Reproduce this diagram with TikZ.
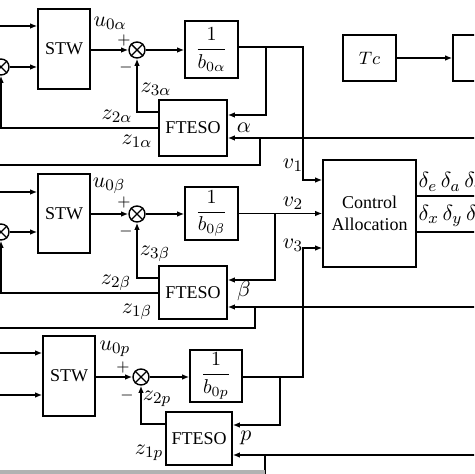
\documentclass[tikz,border=0pt]{standalone}
\usepackage{fontspec}
\setmainfont{Liberation Serif}
\usetikzlibrary{arrows.meta}
\begin{document}
\begin{tikzpicture}[x=0.5pt,y=-0.5pt,line width=0.7pt,
  blk/.style={draw,inner sep=0pt,align=center,font=\fontsize{9}{11}\selectfont},
  sumn/.style={draw,circle,minimum size=8pt,inner sep=0pt},
  arr/.style={-{Latex[length=3.6pt,width=2.8pt]}},
  lbl/.style={inner sep=0pt,font=\fontsize{11}{13}\selectfont},
  sgn/.style={inner sep=0pt,font=\fontsize{8}{9}\selectfont}]
\useasboundingbox (0,0) rectangle (474,474);
\clip (0,0) rectangle (474,474);

% blocks
\node[blk,minimum width=26pt,minimum height=40pt] (stw1) at (64,49) {STW};
\node[blk,minimum width=26pt,minimum height=39.5pt] (stw2) at (64,213.5) {STW};
\node[blk,minimum width=26pt,minimum height=40pt] (stw3) at (69,376) {STW};
\node[blk,minimum width=26.5pt,minimum height=28.5pt,font=\fontsize{10}{12}\selectfont] (b1) at (211.5,49.5) {$\displaystyle\frac{1}{b_{0\alpha}}$};
\node[blk,minimum width=26.5pt,minimum height=26.5pt,font=\fontsize{10}{12}\selectfont] (b2) at (211.5,213.5) {$\displaystyle\frac{1}{b_{0\beta}}$};
\node[blk,minimum width=26pt,minimum height=26pt,font=\fontsize{10}{12}\selectfont] (b3) at (216,376) {$\displaystyle\frac{1}{b_{0p}}$};
\node[blk,minimum width=34pt,minimum height=28pt] (f1) at (193,128) {FTESO};
\node[blk,minimum width=34pt,minimum height=26.5pt] (f2) at (193,292.5) {FTESO};
\node[blk,minimum width=33pt,minimum height=26.5pt] (f3) at (199,438.5) {FTESO};
\node[blk,minimum width=46.5pt,minimum height=53.5pt] (ca) at (369.5,213.5) {Control\\Allocation};
\node[blk,minimum width=26.5pt,minimum height=23pt] (tc) at (369.5,58) {$Tc$};
\node[blk,minimum width=33.5pt,minimum height=23pt] (rb) at (486.5,58) {};

% summing junctions
\node[sumn] (lc1) at (1,67) {};
\node[sumn] (lc2) at (1,232) {};
\node[sumn] (s1) at (137,50) {};
\node[sumn] (s2) at (137,214) {};
\node[sumn] (s3) at (141,377) {};
\foreach \n in {lc1,lc2,s1,s2,s3}
  \draw (\n.north west) -- (\n.south east) (\n.north east) -- (\n.south west);

% free ends and bends
\coordinate (ea1) at (-5,26);
\coordinate (j1) at (303,47);
\coordinate (k1) at (266,47);
\coordinate (ra) at (479,138);
\coordinate (ka) at (260,138);
\coordinate (la) at (-5,165);
\coordinate (eb1) at (-5,192);
\coordinate (k2) at (275,213.5);
\coordinate (rbt) at (479,307);
\coordinate (kb) at (255,307);
\coordinate (lb) at (-5,328);
\coordinate (ep1) at (-5,353);
\coordinate (ep2) at (-5,395);
\coordinate (j3) at (303,377);
\coordinate (k3) at (280,377);
\coordinate (rp) at (479,455);
\coordinate (kp) at (265,455);
\coordinate (lp) at (-5,472);

% row alpha
\draw[arr] (ea1) -- (ea1 -| stw1.west);
\draw[arr] (lc1.east) -- (lc1.east -| stw1.west);
\draw[arr] (stw1.east |- s1) -- (s1.west);
\draw[arr] (s1.east) -- (s1.east -| b1.west);
\draw[arr] (b1.east |- j1) -- (j1) -- (j1 |- 0,180) -- (ca.west |- 0,180);
\draw[arr] (k1) -- (k1 |- 0,115) -- (f1.east |- 0,115);
\draw[arr] (f1.west |- 0,112) -- (s1 |- 0,112) -- (s1.south);
\draw (f1.west |- 0,128) -- (-5,128);
\draw[arr] (lc1 |- 0,128) -- (lc1.south);
\draw[arr] (ra) -- (ra -| f1.east);
\draw (ka) -- (ka |- la) -- (la);

% row beta
\draw[arr] (eb1) -- (eb1 -| stw2.west);
\draw[arr] (lc2.east) -- (lc2.east -| stw2.west);
\draw[arr] (stw2.east |- s2) -- (s2.west);
\draw[arr] (s2.east) -- (s2.east -| b2.west);
\draw[arr] (b2.east) -- (b2.east -| ca.west);
\draw[arr] (k2) -- (k2 |- 0,280) -- (f2.east |- 0,280);
\draw[arr] (f2.west |- 0,278) -- (s2 |- 0,278) -- (s2.south);
\draw (f2.west |- 0,293) -- (-5,293);
\draw[arr] (lc2 |- 0,293) -- (lc2.south);
\draw[arr] (rbt) -- (rbt -| f2.east);
\draw (kb) -- (kb |- lb) -- (lb);

% row p
\draw[arr] (ep1) -- (ep1 -| stw3.west);
\draw[arr] (ep2) -- (ep2 -| stw3.west);
\draw[arr] (stw3.east |- s3) -- (s3.west);
\draw[arr] (s3.east) -- (s3.east -| b3.west);
\draw[arr] (b3.east |- j3) -- (j3) -- (j3 |- 0,248) -- (ca.west |- 0,248);
\draw[arr] (k3) -- (k3 |- 0,425) -- (f3.east |- 0,425);
\draw[arr] (f3.west |- 0,424) -- (s3 |- 0,424) -- (s3.south);
\draw[arr] (rp) -- (rp -| f3.east);
\draw (kp) -- (kp |- 0,476);
\draw[black!30,line width=2pt] (kp |- lp) -- (lp);

% Tc and outputs
\draw[arr] (tc.east) -- (rb.west);
\draw (ca.east |- 0,196) -- (479,196);
\draw (ca.east |- 0,232) -- (479,232);

% labels
\node[lbl] (lu1) at (110,23) {$u_{0\alpha}$};
\node[sgn] (pa) at (124,41) {$+$};
\node[sgn] (ma) at (126,68) {$-$};
\node[lbl] (lz3a) at (156,89) {$z_{3\alpha}$};
\node[lbl] (lz2a) at (117,116) {$z_{2\alpha}$};
\node[lbl] (lz1a) at (137,141) {$z_{1\alpha}$};
\node[lbl] (lal) at (244,128) {$\alpha$};
\node[lbl] (lv1) at (293,165) {$v_1$};
\node[lbl] (lu2) at (109,186) {$u_{0\beta}$};
\node[sgn] (pb) at (124,203) {$+$};
\node[sgn] (mb) at (126,232) {$-$};
\node[lbl] (lz3b) at (155,254) {$z_{3\beta}$};
\node[lbl] (lz2b) at (116,283) {$z_{2\beta}$};
\node[lbl] (lz1b) at (137,312) {$z_{1\beta}$};
\node[lbl] (lbe) at (244,291) {$\beta$};
\node[lbl] (lv2) at (293,203) {$v_2$};
\node[lbl] (lv3) at (293,245) {$v_3$};
\node[lbl] (lu3) at (115,349) {$u_{0p}$};
\node[sgn] (pp) at (123,367) {$+$};
\node[sgn] (mp) at (127,395) {$-$};
\node[lbl] (lz2p) at (157,399) {$z_{2p}$};
\node[lbl] (lz1p) at (149,453) {$z_{1p}$};
\node[lbl] (lp1) at (246,438) {$p$};
\node[lbl,anchor=west] (d1) at (418,182) {$\delta_e\,\delta_a\,\delta_r$};
\node[lbl,anchor=west] (d2) at (418,216) {$\delta_x\,\delta_y\,\delta_z$};
\end{tikzpicture}
\end{document}
